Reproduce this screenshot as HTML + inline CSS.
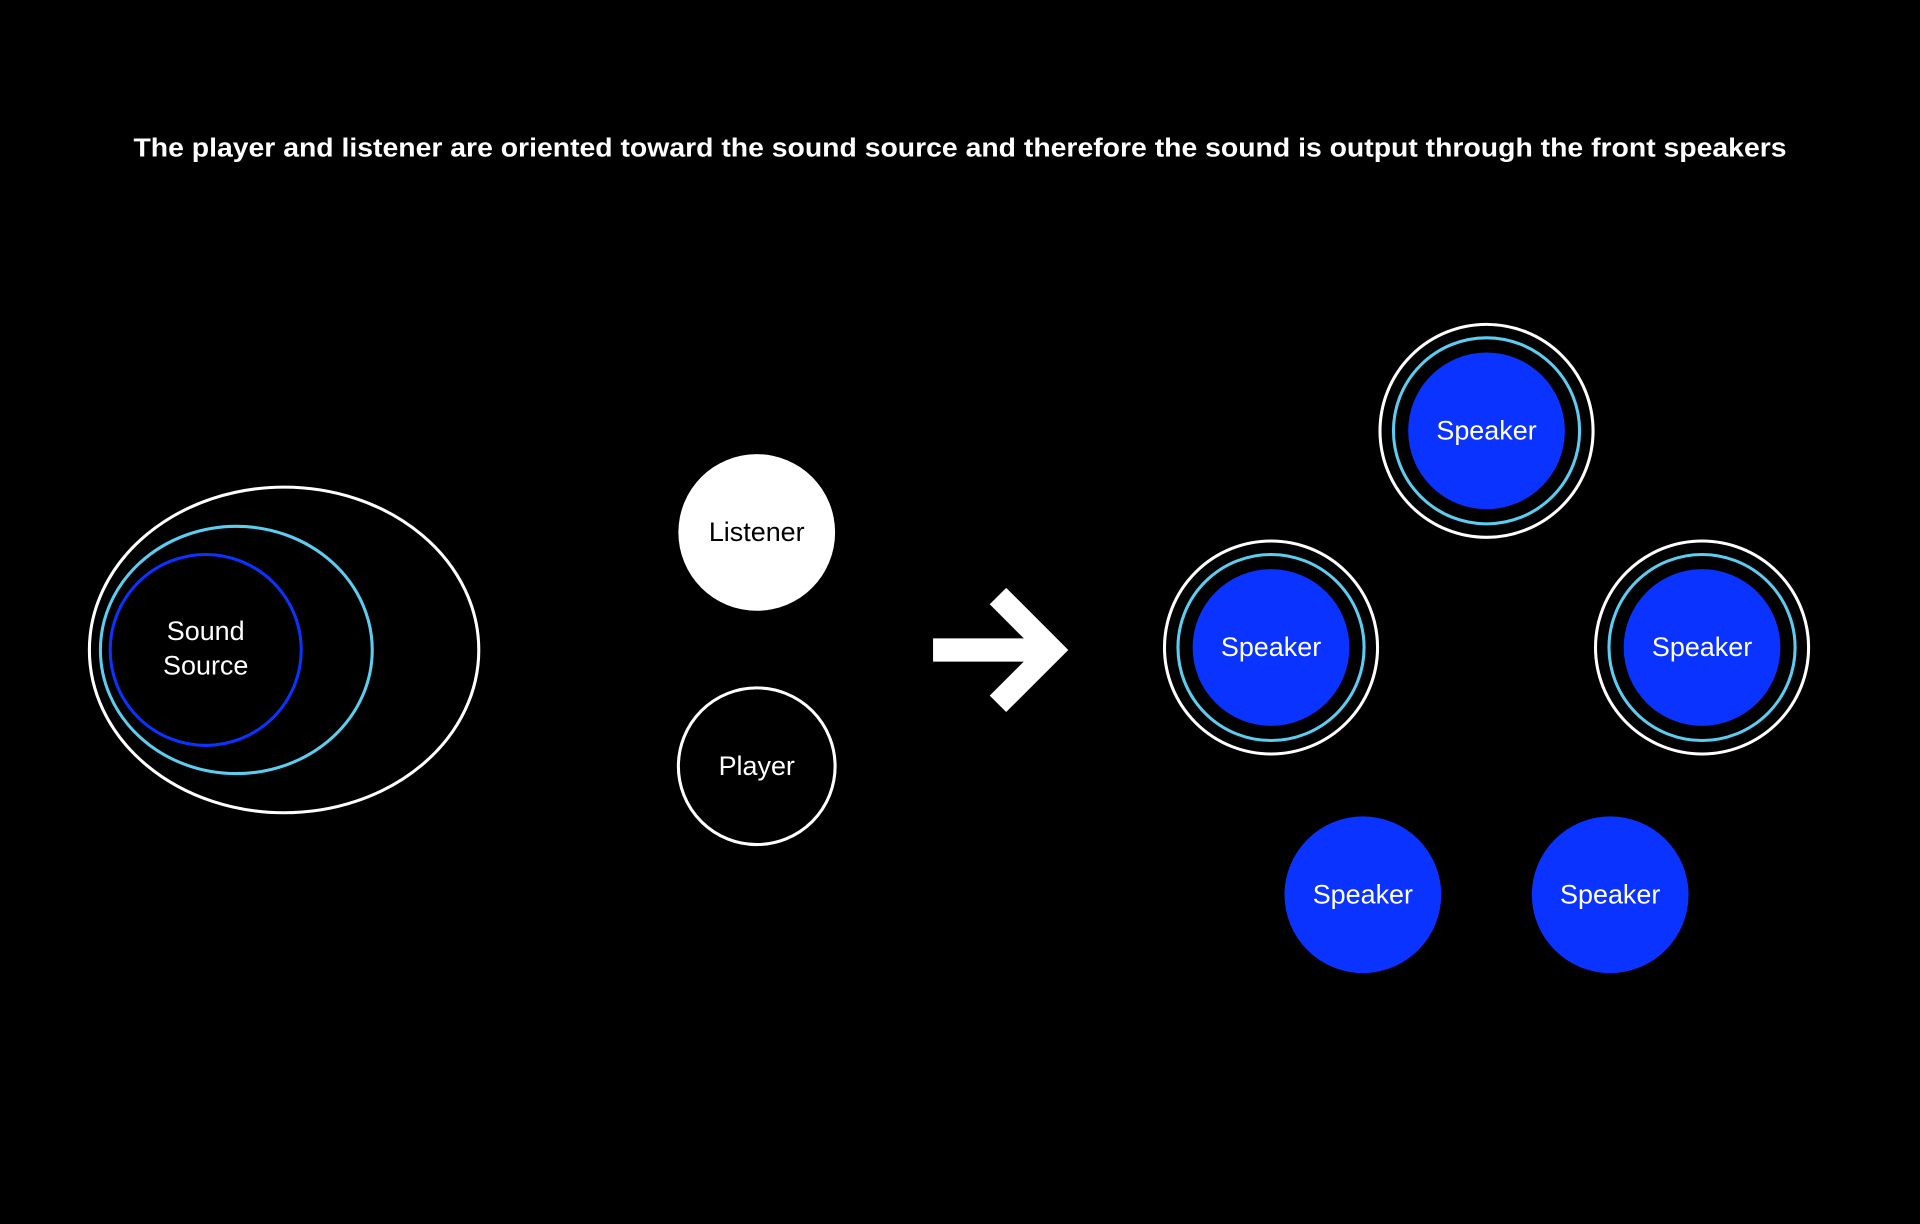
<!DOCTYPE html>
<html><head><meta charset="utf-8"><style>
html,body{margin:0;padding:0;background:#000;width:1920px;height:1224px;overflow:hidden}
svg{display:block}
text{font-family:"Liberation Sans",sans-serif;}
</style></head><body>
<svg width="1920" height="1224" viewBox="0 0 1568 1000" preserveAspectRatio="none" xmlns="http://www.w3.org/2000/svg">
<rect width="1568" height="1000" fill="#000"/>
<text x="109" y="128" fill="#fff" font-size="21.5" font-weight="bold" textLength="1350" lengthAdjust="spacingAndGlyphs">The player and listener are oriented toward the sound source and therefore the sound is output through the front speakers</text>
<ellipse cx="232" cy="531" rx="159" ry="133" fill="none" stroke="#fff" stroke-width="2.5"/>
<ellipse cx="193" cy="531" rx="111" ry="101" fill="none" stroke="#5ccdf0" stroke-width="2.5"/>
<circle cx="168" cy="531" r="78" fill="none" stroke="#0a33ff" stroke-width="2.5"/>
<text x="168" y="523" fill="#fff" font-size="22" text-anchor="middle">Sound</text>
<text x="168" y="551" fill="#fff" font-size="22" text-anchor="middle">Source</text>
<circle cx="618" cy="435" r="64" fill="#fff"/>
<text x="618" y="442" fill="#000" font-size="22" text-anchor="middle">Listener</text>
<circle cx="618" cy="626" r="64" fill="none" stroke="#fff" stroke-width="2.5"/>
<text x="618" y="633" fill="#fff" font-size="22" text-anchor="middle">Player</text>
<line x1="762" y1="531" x2="858" y2="531" stroke="#fff" stroke-width="19"/>
<polyline points="815,487 859,531 815,575" fill="none" stroke="#fff" stroke-width="19" stroke-linecap="butt" stroke-linejoin="miter"/>
<g>
<circle cx="1214" cy="352" r="87" fill="none" stroke="#fff" stroke-width="2.5"/>
<circle cx="1214" cy="352" r="76" fill="none" stroke="#5ccdf0" stroke-width="2.5"/>
<circle cx="1214" cy="352" r="64" fill="#0a33ff"/>
<text x="1214" y="359" fill="#fff" font-size="22" text-anchor="middle">Speaker</text>
</g>
<g>
<circle cx="1038" cy="529" r="87" fill="none" stroke="#fff" stroke-width="2.5"/>
<circle cx="1038" cy="529" r="76" fill="none" stroke="#5ccdf0" stroke-width="2.5"/>
<circle cx="1038" cy="529" r="64" fill="#0a33ff"/>
<text x="1038" y="536" fill="#fff" font-size="22" text-anchor="middle">Speaker</text>
</g>
<g>
<circle cx="1390" cy="529" r="87" fill="none" stroke="#fff" stroke-width="2.5"/>
<circle cx="1390" cy="529" r="76" fill="none" stroke="#5ccdf0" stroke-width="2.5"/>
<circle cx="1390" cy="529" r="64" fill="#0a33ff"/>
<text x="1390" y="536" fill="#fff" font-size="22" text-anchor="middle">Speaker</text>
</g>
<circle cx="1113" cy="731" r="64" fill="#0a33ff"/>
<text x="1113" y="738" fill="#fff" font-size="22" text-anchor="middle">Speaker</text>
<circle cx="1315" cy="731" r="64" fill="#0a33ff"/>
<text x="1315" y="738" fill="#fff" font-size="22" text-anchor="middle">Speaker</text>
</svg>
</body></html>
